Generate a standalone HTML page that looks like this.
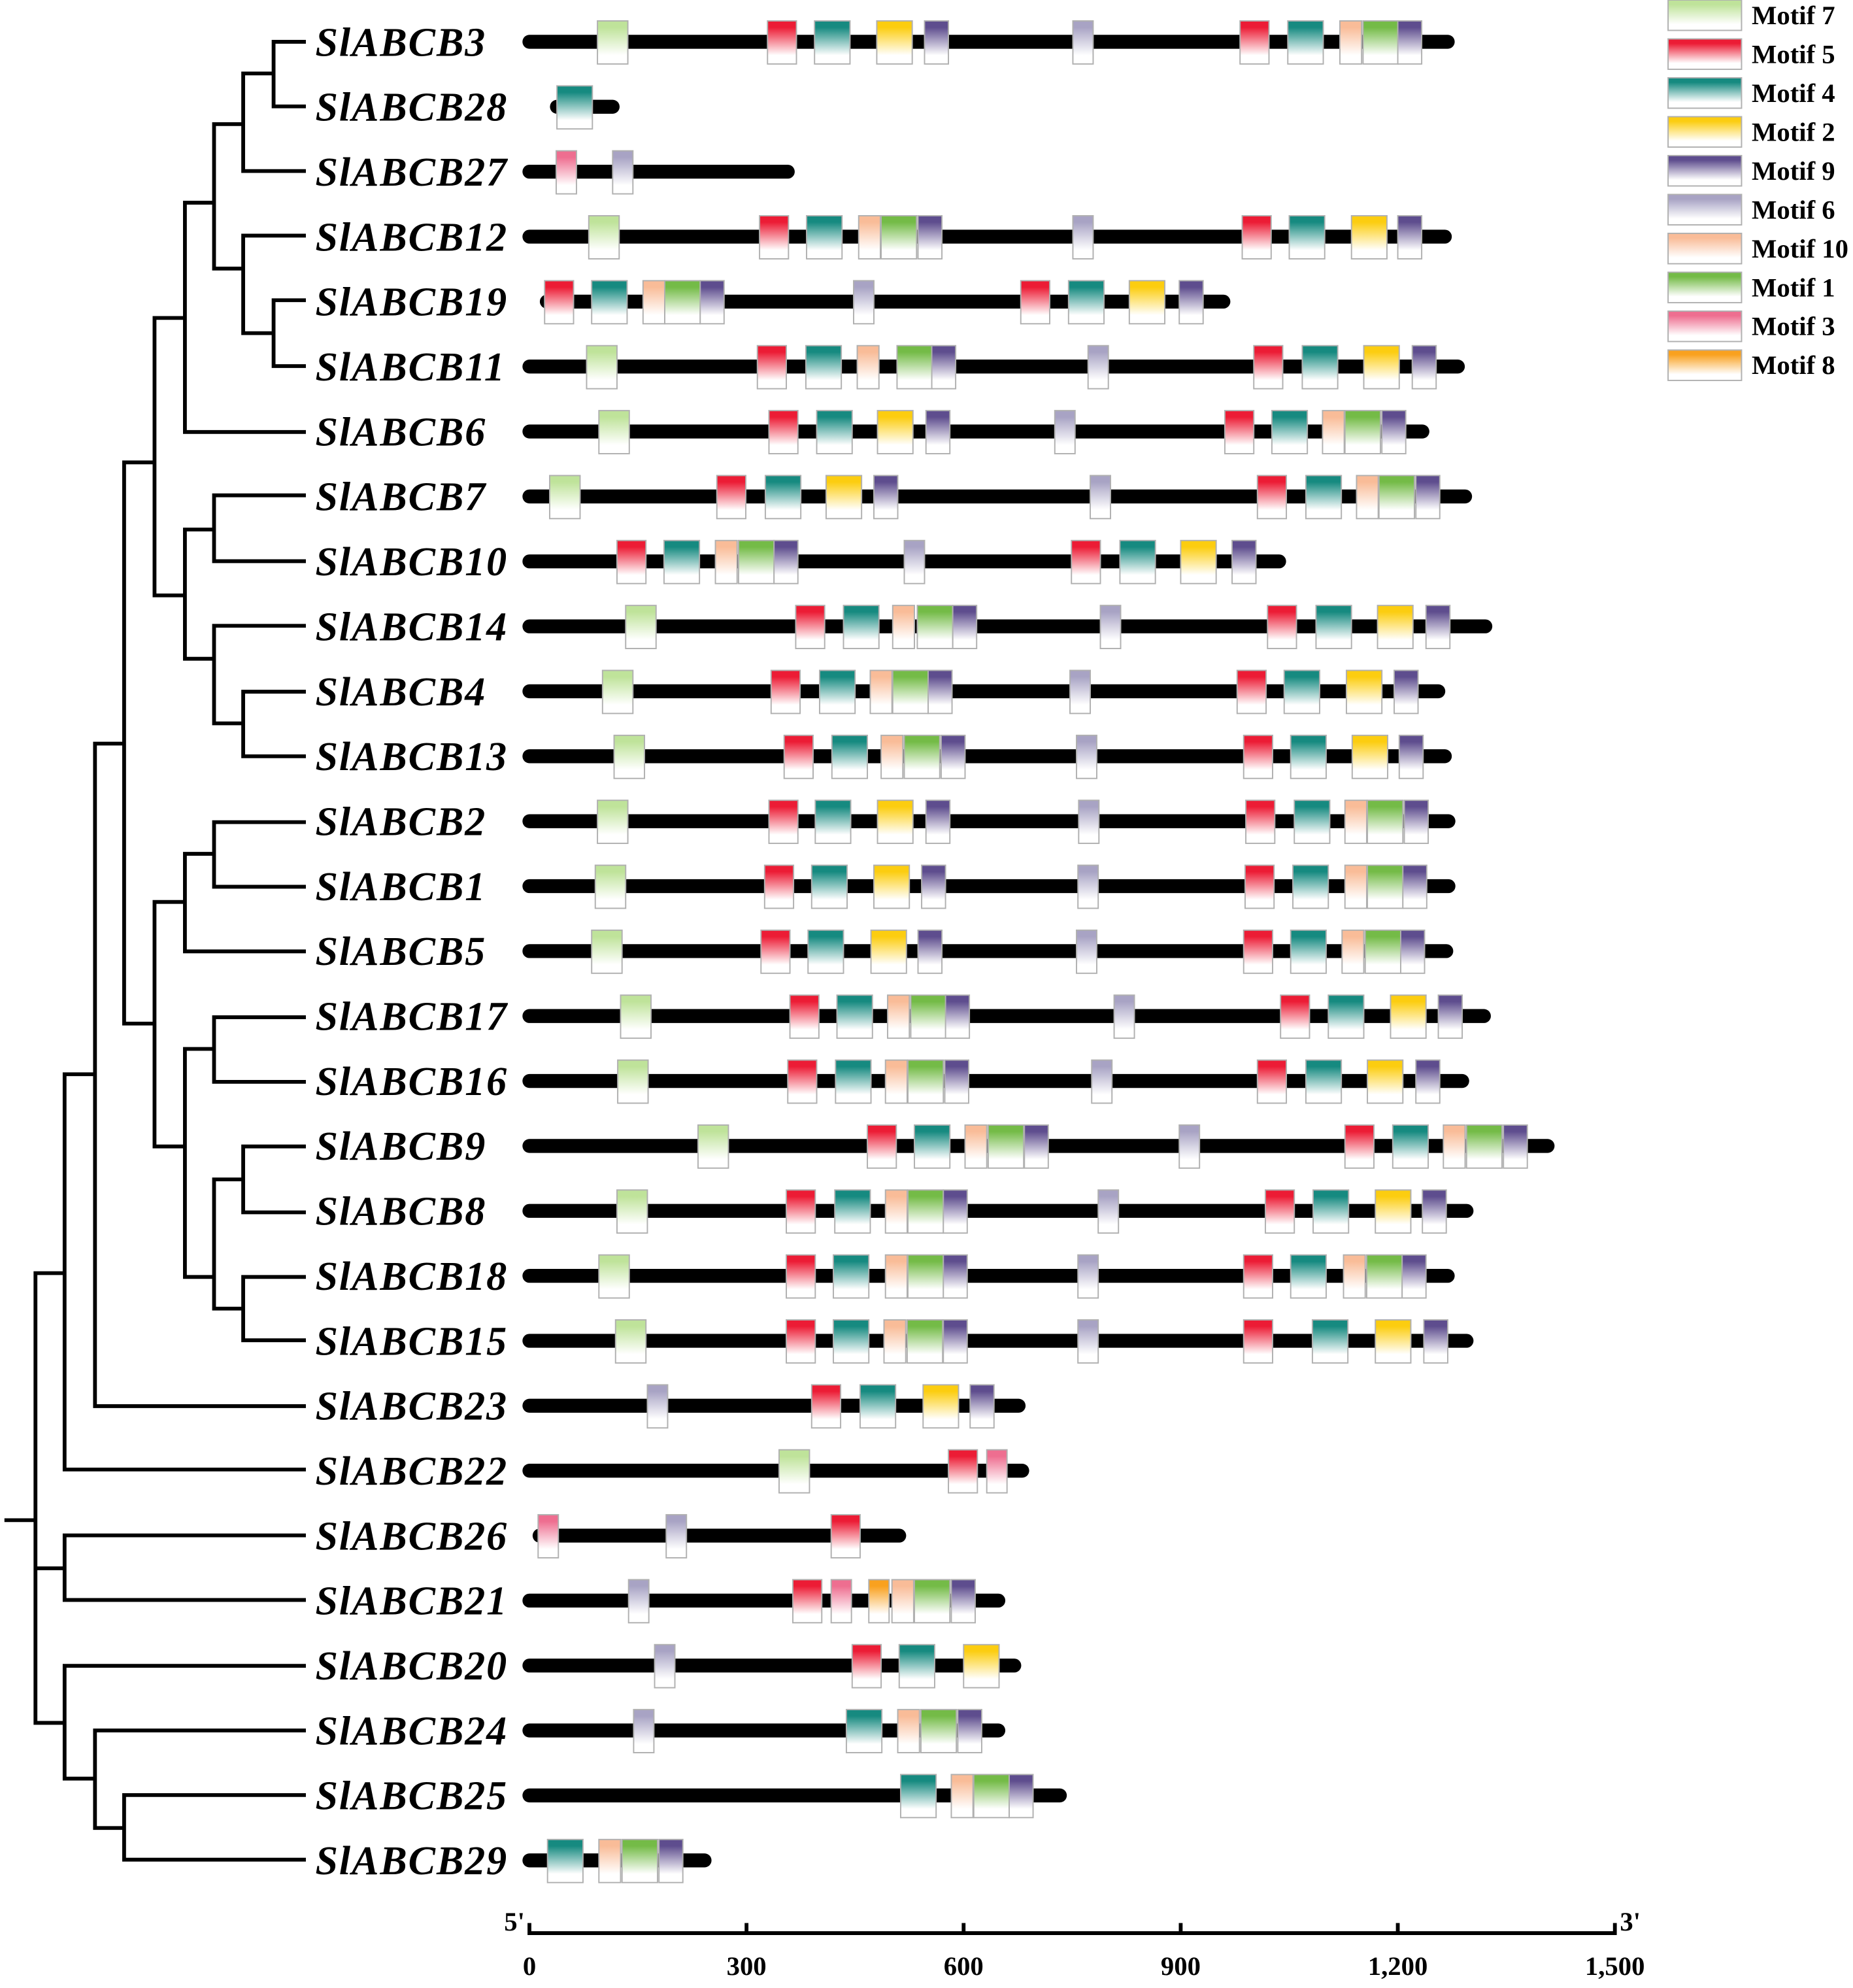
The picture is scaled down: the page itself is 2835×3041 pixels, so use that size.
<!DOCTYPE html>
<html><head><meta charset="utf-8"><style>
html,body{margin:0;padding:0;background:#fff}
svg{display:block}
text{font-family:"Liberation Serif",serif;font-weight:bold}
</style></head><body>
<svg id="fig" width="2835" height="3041" viewBox="0 0 1463 1569.3" preserveAspectRatio="none" xmlns="http://www.w3.org/2000/svg">
<defs id="defs"></defs>
<g id="tree" stroke="#000" stroke-width="3" fill="none"></g>
<g id="labels"></g>
<g id="genes"></g>
<g id="axis"></g>
<g id="legend"></g>
</svg>
<script>
const genes=["SlABCB3","SlABCB28","SlABCB27","SlABCB12","SlABCB19","SlABCB11","SlABCB6","SlABCB7","SlABCB10","SlABCB14","SlABCB4","SlABCB13","SlABCB2","SlABCB1","SlABCB5","SlABCB17","SlABCB16","SlABCB9","SlABCB8","SlABCB18","SlABCB15","SlABCB23","SlABCB22","SlABCB26","SlABCB21","SlABCB20","SlABCB24","SlABCB25","SlABCB29"];
const lengths=[1269,115,357,1265,959,1283,1234,1293,1036,1321,1256,1265,1270,1270,1267,1319,1289,1407,1295,1269,1295,676,681,511,648,670,648,733,242];
const starts=[0,38,0,0,24,0,0,0,0,0,0,0,0,0,0,0,0,0,0,0,0,0,0,14,0,0,0,0,0];
const motifSites=[
[[7,94],[5,329],[4,394],[2,480],[9,546],[6,751],[5,982],[4,1048],[10,1120],[1,1152],[9,1200]],
[[4,38]],
[[3,37],[6,115]],
[[7,82],[5,318],[4,383],[10,455],[1,486],[9,537],[6,751],[5,985],[4,1050],[2,1136],[9,1200]],
[[5,21],[4,86],[10,157],[1,187],[9,236],[6,448],[5,679],[4,745],[2,829],[9,898]],
[[7,79],[5,315],[4,382],[10,453],[1,508],[9,556],[6,772],[5,1001],[4,1068],[2,1153],[9,1220]],
[[7,96],[5,331],[4,397],[2,481],[9,548],[6,726],[5,961],[4,1026],[10,1096],[1,1127],[9,1178]],
[[7,28],[5,259],[4,326],[2,410],[9,476],[6,775],[5,1006],[4,1073],[10,1143],[1,1174],[9,1225]],
[[5,121],[4,186],[10,257],[1,289],[9,338],[6,518],[5,749],[4,816],[2,900],[9,971]],
[[7,133],[5,368],[4,434],[10,502],[1,536],[9,585],[6,789],[5,1020],[4,1087],[2,1172],[9,1239]],
[[7,101],[5,334],[4,401],[10,471],[1,502],[9,551],[6,747],[5,978],[4,1043],[2,1129],[9,1195]],
[[7,117],[5,352],[4,418],[10,486],[1,518],[9,569],[6,756],[5,987],[4,1052],[2,1137],[9,1202]],
[[7,94],[5,331],[4,395],[2,481],[9,548],[6,759],[5,990],[4,1057],[10,1127],[1,1158],[9,1209]],
[[7,91],[5,325],[4,390],[2,476],[9,542],[6,758],[5,989],[4,1055],[10,1127],[1,1158],[9,1207]],
[[7,86],[5,320],[4,385],[2,472],[9,537],[6,756],[5,987],[4,1052],[10,1123],[1,1155],[9,1204]],
[[7,126],[5,360],[4,425],[10,495],[1,527],[9,575],[6,808],[5,1038],[4,1104],[2,1190],[9,1256]],
[[7,122],[5,357],[4,423],[10,492],[1,523],[9,574],[6,777],[5,1006],[4,1073],[2,1158],[9,1225]],
[[7,233],[5,467],[4,532],[10,602],[1,634],[9,684],[6,898],[5,1127],[4,1193],[10,1263],[1,1295],[9,1346]],
[[7,121],[5,355],[4,422],[10,492],[1,523],[9,572],[6,786],[5,1017],[4,1083],[2,1169],[9,1234]],
[[7,96],[5,355],[4,420],[10,492],[1,523],[9,572],[6,758],[5,987],[4,1052],[10,1125],[1,1157],[9,1206]],
[[7,119],[5,355],[4,420],[10,490],[1,522],[9,572],[6,758],[5,987],[4,1082],[2,1169],[9,1236]],
[[6,163],[5,390],[4,457],[2,544],[9,609]],
[[7,345],[5,579],[3,632]],
[[3,12],[6,189],[5,417]],
[[6,137],[5,364],[3,417],[8,469],[10,501],[1,532],[9,583]],
[[6,173],[5,446],[4,511],[2,600]],
[[6,144],[4,438],[10,509],[1,541],[9,592]],
[[4,513],[10,583],[1,614],[9,663]],
[[4,25],[10,96],[1,128],[9,179]]
];
const legendOrder=[7,5,4,2,9,6,10,1,3,8];
const motifColors={7:"#bfe39a",5:"#ec1c35",4:"#168a80",2:"#fccd10",9:"#5e4d8e",6:"#a8a3c4",10:"#f9bc98",1:"#74bb47",3:"#ee6e90",8:"#f9a11f"};
const motifWidths={7:42,5:40,4:49,2:49,9:33,6:28,10:30,1:49,3:28,8:28};
const axisTicks=[0,300,600,900,1200,1500];
const axisTickLabels=["0","300","600","900","1,200","1,500"];

const NS="http://www.w3.org/2000/svg";
function mk(tag,attrs,parent){const e=document.createElementNS(NS,tag);for(const k in attrs)e.setAttribute(k,attrs[k]);parent.appendChild(e);return e;}
const xs=v=>418+v*(1275-418)/1500;
const ys=i=>33+i*51.27;
const defs=document.getElementById('defs');
for(const m of legendOrder){
  const g=mk('linearGradient',{id:'g'+m,x1:0,y1:0,x2:0,y2:1},defs);
  mk('stop',{offset:0,'stop-color':motifColors[m]},g);
  mk('stop',{offset:0.15,'stop-color':motifColors[m]},g);
  mk('stop',{offset:0.8,'stop-color':'#fff'},g);
  mk('stop',{offset:1,'stop-color':'#fff'},g);
}
const tree=document.getElementById('tree');
const segs=[
[5,1200,28,1200],[28,1005,28,1360],
[28,1005,51,1005],[51,848,51,1160],[51,1160,240,1160],
[51,848,75,848],[75,587,75,1110],[75,1110,240,1110],
[75,587,98,587],[98,365,98,808],
[98,365,122,365],[122,251,122,470],
[122,251,146,251],[146,160,146,341],[146,341,240,341],
[146,160,169,160],[169,98,169,212],
[169,98,192,98],[192,58,192,135],[192,135,240,135],
[192,58,216,58],[216,33,216,84],[216,33,240,33],[216,84,240,84],
[169,212,192,212],[192,186,192,263],[192,186,240,186],
[192,263,216,263],[216,237,216,289],[216,237,240,237],[216,289,240,289],
[122,470,146,470],[146,418,146,520],
[146,418,169,418],[169,391,169,443],[169,391,240,391],[169,443,240,443],
[146,520,169,520],[169,494,169,571],[169,494,240,494],
[169,571,192,571],[192,546,192,597],[192,546,240,546],[192,597,240,597],
[98,808,122,808],[122,712,122,905],
[122,712,146,712],[146,674,146,751],[146,751,240,751],
[146,674,169,674],[169,649,169,700],[169,649,240,649],[169,700,240,700],
[122,905,146,905],[146,828,146,1008],
[146,828,169,828],[169,803,169,854],[169,803,240,803],[169,854,240,854],
[146,1008,169,1008],[169,931,169,1033],
[169,931,192,931],[192,905,192,957],[192,905,240,905],[192,957,240,957],
[169,1033,192,1033],[192,1008,192,1058],[192,1008,240,1008],[192,1058,240,1058],
[28,1238,51,1238],[51,1212,51,1263],[51,1212,240,1212],[51,1263,240,1263],
[28,1360,51,1360],[51,1315,51,1404],[51,1315,240,1315],
[51,1404,75,1404],[75,1366,75,1443],[75,1366,240,1366],
[75,1443,98,1443],[98,1417,98,1468],[98,1417,240,1417],[98,1468,240,1468]
];
let p='';for(const s of segs)p+=`M${s[0]} ${s[1]}H${s[2]}V${s[3]}`;
const tp=mk('path',{d:p,'stroke-linecap':'square'},tree);


const lab=document.getElementById('labels'),gg=document.getElementById('genes');
genes.forEach((name,i)=>{
  const y=ys(i);
  const t=mk('text',{x:249,y:y+11,'font-size':32,'font-style':'italic','letter-spacing':1},lab);
  t.textContent=name;
  
  
  const row=mk('g',{},gg);
  
  
  const x0=xs(starts[i]),x1=xs(lengths[i]);
  const bar=mk('line',{x1:x0,y1:y,x2:x1,y2:y,stroke:'#000','stroke-width':11,'stroke-linecap':'round'},row);
  
  
  for(const [m,pos] of motifSites[i]){
    const r=mk('rect',{x:xs(pos),y:y-16.5,width:xs(motifWidths[m])-xs(0),height:34,fill:`url(#g${m})`,stroke:'#b0b0b0','stroke-width':1},row);
    
    
  }
});
const ax=document.getElementById('axis');const ay=1526;
const al=mk('line',{x1:xs(0),y1:ay,x2:xs(1500),y2:ay,stroke:'#000','stroke-width':3},ax);


axisTicks.forEach((v,i)=>{
  const tk=mk('line',{x1:xs(v),y1:ay-8,x2:xs(v),y2:ay+1.5,stroke:'#000','stroke-width':3},ax);
  
  
  const tl=mk('text',{x:xs(v),y:ay+33,'font-size':21,'text-anchor':'middle'},ax);
  tl.textContent=axisTickLabels[i];
  
  
});
const e5=mk('text',{x:398,y:ay-2,'font-size':21},ax);e5.textContent="5'";


const e3=mk('text',{x:1279,y:ay-2,'font-size':21},ax);e3.textContent="3'";


const lg=document.getElementById('legend');
legendOrder.forEach((m,i)=>{
  const y=12+i*30.7;
  const r=mk('rect',{x:1317,y:y-12,width:58,height:24,fill:`url(#g${m})`,stroke:'#b0b0b0','stroke-width':1},lg);
  
  
  const t=mk('text',{x:1383,y:y+7,'font-size':21},lg);
  t.textContent='Motif '+m;
  
  
});
</script>
</body></html>
